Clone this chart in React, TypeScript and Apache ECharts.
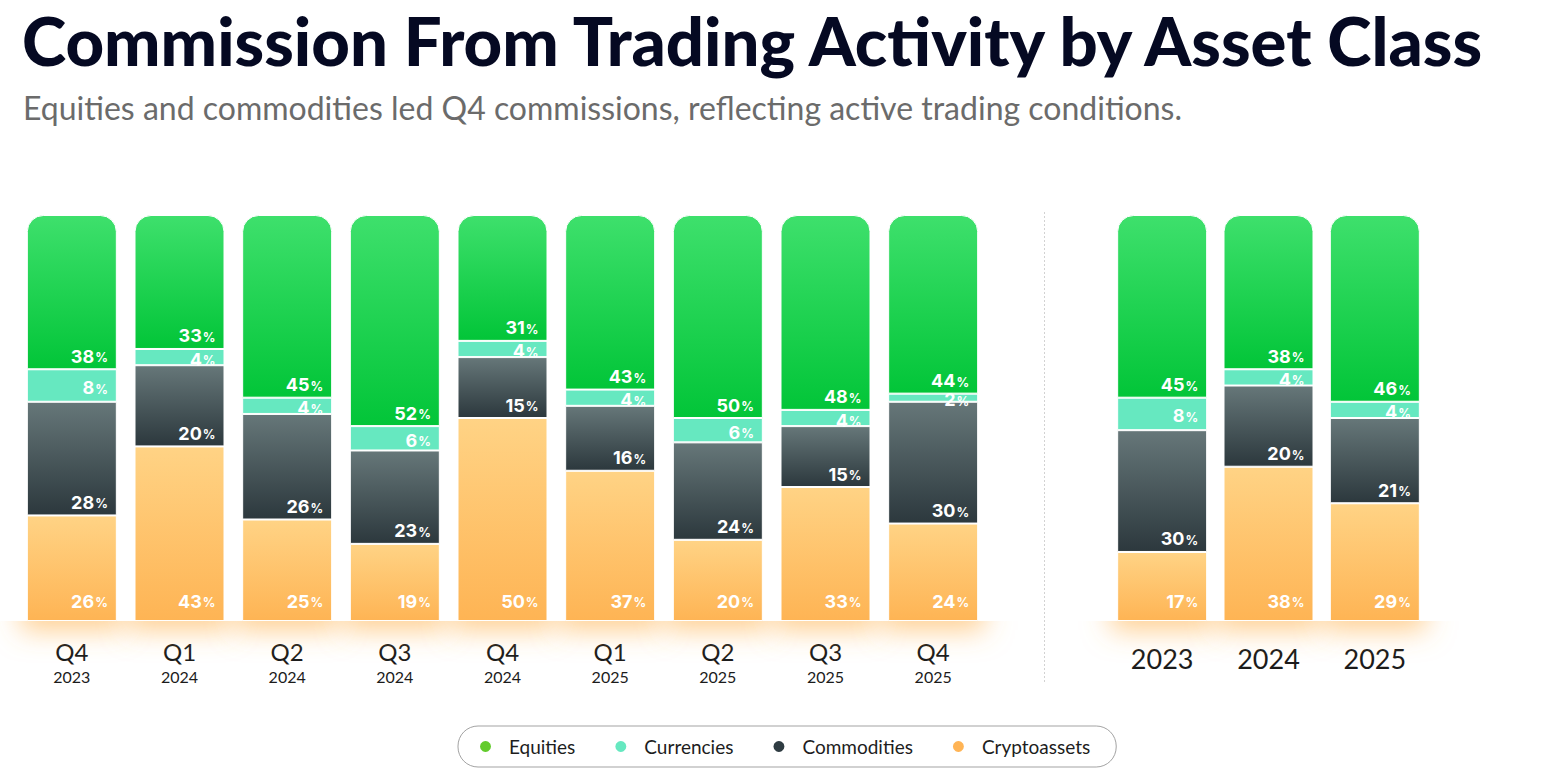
import React, { useEffect, useRef } from "react";
import * as echarts from "echarts";

// Quarterly commission share by asset class (percent of total)
const quarterLabels = ["Q4", "Q1", "Q2", "Q3", "Q4", "Q1", "Q2", "Q3", "Q4"];
const quarterYears = ["2023", "2024", "2024", "2024", "2024", "2025", "2025", "2025", "2025"];
const quarterlyEquities = [38, 33, 45, 52, 31, 43, 50, 48, 44];
const quarterlyCurrencies = [8, 4, 4, 6, 4, 4, 6, 4, 2];
const quarterlyCommodities = [28, 20, 26, 23, 15, 16, 24, 15, 30];
const quarterlyCrypto = [26, 43, 25, 19, 50, 37, 20, 33, 24];

// Full-year commission share by asset class
const years = ["2023", "2024", "2025"];
const annualEquities = [45, 38, 46];
const annualCurrencies = [8, 4, 4];
const annualCommodities = [30, 20, 21];
const annualCrypto = [17, 38, 29];

const seriesNames = ["Equities", "Currencies", "Commodities", "Cryptoassets"];
const legendColors = ["#62cb2c", "#66e8c0", "#2f3c42", "#ffb455"];

const TITLE = "Commission From Trading Activity by Asset Class";
const SUBTITLE = "Equities and commodities led Q4 commissions, reflecting active trading conditions.";

const FONT = "Lato, 'Noto Sans', sans-serif";
const LABEL_FONT = "Inter, 'Noto Sans', sans-serif";

const vGrad = (top: string, bottom: string) => ({
  type: "linear",
  x: 0,
  y: 0,
  x2: 0,
  y2: 1,
  colorStops: [
    { offset: 0, color: top },
    { offset: 1, color: bottom },
  ],
});

const segmentStyles = [
  { color: vGrad("#3ee06c", "#02c538"), borderRadius: [16, 16, 0, 0] },
  { color: "#66e8c0", borderRadius: 0 },
  { color: vGrad("#667779", "#2c383d"), borderRadius: 0 },
  { color: vGrad("#ffd385", "#feb454"), borderRadius: 0 },
];

const labelRich = {
  v: {
    fontFamily: LABEL_FONT,
    fontSize: 18,
    fontWeight: 700,
    color: "#ffffff",
    lineHeight: 20,
    verticalAlign: "bottom",
  },
  p: {
    fontFamily: LABEL_FONT,
    fontSize: 12.5,
    fontWeight: 700,
    color: "#ffffff",
    lineHeight: 20,
    verticalAlign: "bottom",
    padding: [0, 0, 1, 1],
  },
};

function segmentData(values: number[], isBottom: boolean) {
  return values.map((v) => {
    const small = v <= 8;
    return {
      value: v,
      label: small
        ? { position: ["100%", "50%"], align: "right", verticalAlign: "middle", offset: [-9, 1] }
        : {
            position: ["100%", "100%"],
            align: "right",
            verticalAlign: "bottom",
            offset: [-9, isBottom ? -11 : -4],
          },
    };
  });
}

function barSeries(
  name: string,
  idx: number,
  values: number[],
  stack: string,
  axisIndex: number
) {
  return {
    type: "bar",
    name,
    stack,
    xAxisIndex: axisIndex,
    yAxisIndex: axisIndex,
    barWidth: 90,
    z: 3,
    itemStyle: {
      color: segmentStyles[idx].color,
      borderRadius: segmentStyles[idx].borderRadius,
      borderColor: "#ffffff",
      borderWidth: 1,
    },
    label: {
      show: true,
      formatter: (p: any) => `{v|${p.value}}{p|%}`,
      rich: labelRich,
    },
    data: segmentData(values, idx === 3),
  };
}

// Soft orange glow that spills below the base of every column
function glowSeries(count: number, axisIndex: number) {
  return {
    type: "custom",
    xAxisIndex: axisIndex,
    yAxisIndex: axisIndex,
    clip: false,
    silent: true,
    z: 1,
    data: Array.from({ length: count }, (_, i) => [i, 0]),
    renderItem: (params: any, api: any) => {
      const base = api.coord([api.value(0), 0]);
      const w = 90;
      return {
        type: "group",
        clipPath: {
          type: "rect",
          shape: { x: base[0] - 120, y: base[1], width: 240, height: 80 },
        },
        children: [
          {
            type: "rect",
            shape: { x: base[0] - w / 2 - 6, y: base[1] - 60, width: w + 12, height: 60 },
            style: {
              fill: "rgba(255,196,120,1)",
              shadowBlur: 28,
              shadowOffsetY: 9,
              shadowColor: "rgba(255,176,76,0.62)",
            },
          },
        ],
      };
    },
  };
}

export default function App() {
  const ref = useRef<HTMLDivElement>(null);

  useEffect(() => {
    if (!ref.current) return;
    const chart = echarts.init(ref.current, undefined, { renderer: "svg" });

    const quarterly = [quarterlyEquities, quarterlyCurrencies, quarterlyCommodities, quarterlyCrypto];
    const annual = [annualEquities, annualCurrencies, annualCommodities, annualCrypto];
    // stack from the bottom: crypto, commodities, currencies, equities
    const order = [3, 2, 1, 0];

    const option: any = {
      animation: false,
      backgroundColor: "#ffffff",
      title: [
        {
          text: TITLE,
          left: 17,
          top: 1,
          textStyle: {
            fontFamily: FONT,
            fontSize: 67,
            fontWeight: 900,
            color: "#050922",
          },
        },
        {
          text: SUBTITLE,
          left: 18,
          top: 86,
          textStyle: {
            fontFamily: FONT,
            fontSize: 32,
            fontWeight: 400,
            color: "#6b6b6b",
          },
        },
      ],
      legend: {
        left: 458,
        top: 726,
        icon: "circle",
        itemWidth: 13,
        itemHeight: 13,
        itemGap: 38,
        padding: [11, 26, 11, 20],
        borderColor: "#a3a3a3",
        borderWidth: 1,
        borderRadius: 20,
        selectedMode: false,
        textStyle: {
          fontFamily: FONT,
          fontSize: 19,
          color: "#1d1d1d",
          padding: [0, 0, 0, 12],
        },
        data: seriesNames.map((n, i) => ({ name: n, itemStyle: { color: legendColors[i] } })),
      },
      grid: [
        { left: 18, width: 969, top: 215, height: 406 },
        { left: 1109, width: 319, top: 215, height: 406 },
      ],
      xAxis: [
        {
          type: "category",
          gridIndex: 0,
          data: quarterLabels,
          axisLine: { show: false },
          axisTick: { show: false },
          axisLabel: {
            margin: 17,
            interval: 0,
            formatter: (v: string, i: number) => `{q|${v}}\n{y|${quarterYears[i]}}`,
            rich: {
              q: { fontFamily: FONT, fontSize: 24, color: "#1b1b1b", lineHeight: 26 },
              y: { fontFamily: FONT, fontSize: 16, color: "#1b1b1b", lineHeight: 24 },
            },
          },
        },
        {
          type: "category",
          gridIndex: 1,
          data: years,
          axisLine: { show: false },
          axisTick: { show: false },
          axisLabel: {
            margin: 22,
            interval: 0,
            fontFamily: FONT,
            fontSize: 27,
            color: "#1b1b1b",
            lineHeight: 30,
          },
        },
      ],
      yAxis: [
        { type: "value", gridIndex: 0, min: 0, max: 100, show: false },
        { type: "value", gridIndex: 1, min: 0, max: 100, show: false },
      ],
      graphic: [
        {
          type: "line",
          shape: { x1: 1044.5, y1: 212, x2: 1044.5, y2: 683 },
          style: { stroke: "#d2d2d2", lineWidth: 1, lineDash: [2, 2] },
          silent: true,
        },
      ],
      series: [
        glowSeries(quarterLabels.length, 0),
        glowSeries(years.length, 1),
        ...order.map((i) => barSeries(seriesNames[i], i, quarterly[i], "quarter", 0)),
        ...order.map((i) => barSeries(seriesNames[i], i, annual[i], "year", 1)),
      ],
    };

    chart.setOption(option);
    return () => chart.dispose();
  }, []);

  return (
    <div
      ref={ref}
      style={{ position: "absolute", left: 0, top: 0, width: 1550, height: 770, background: "#fff" }}
    />
  );
}
